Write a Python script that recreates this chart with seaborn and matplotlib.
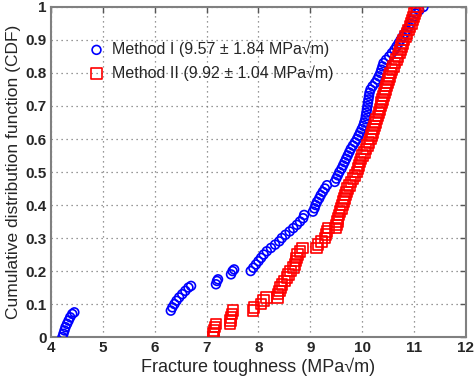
import matplotlib
matplotlib.use("Agg")
import matplotlib.pyplot as plt
import seaborn as sns
import pandas as pd

# Method I (blue circles): fracture toughness vs CDF
m1_x = [4.22, 4.24, 4.26, 4.28, 4.31, 4.34, 4.37, 4.41, 4.45,
        6.31, 6.34, 6.38, 6.42, 6.47, 6.53, 6.59, 6.65, 6.70,
        7.18, 7.20, 7.22,
        7.47, 7.50, 7.53,
        7.85, 7.90, 7.95, 8.00, 8.05, 8.10, 8.16, 8.24, 8.32, 8.40,
        8.45, 8.52, 8.60, 8.67, 8.74, 8.80, 8.86, 8.88,
        9.05, 9.08, 9.10, 9.13, 9.17, 9.20, 9.24, 9.28, 9.32,
        9.47, 9.50, 9.53, 9.56, 9.60, 9.63, 9.66, 9.69, 9.72, 9.75,
        9.78, 9.82, 9.86, 9.90, 9.93, 9.96, 9.99, 10.02, 10.04, 10.06,
        10.07, 10.08, 10.09, 10.10, 10.11, 10.12, 10.13, 10.14, 10.16,
        10.20, 10.25, 10.29, 10.32, 10.35, 10.37, 10.39, 10.41, 10.46,
        10.52, 10.57, 10.62, 10.66, 10.70, 10.74, 10.78, 10.82, 10.86,
        10.90, 10.93, 10.96, 10.99, 11.03, 11.10, 11.18]
m1_y = [0.00, 0.01, 0.02, 0.03, 0.04, 0.05, 0.06, 0.07, 0.075,
        0.08, 0.09, 0.10, 0.11, 0.12, 0.13, 0.14, 0.15, 0.155,
        0.16, 0.17, 0.175,
        0.19, 0.20, 0.205,
        0.20, 0.21, 0.22, 0.23, 0.24, 0.25, 0.26, 0.27, 0.28, 0.29,
        0.30, 0.31, 0.32, 0.33, 0.34, 0.35, 0.36, 0.37,
        0.38, 0.39, 0.40, 0.41, 0.42, 0.43, 0.44, 0.45, 0.46,
        0.47, 0.48, 0.49, 0.50, 0.51, 0.52, 0.53, 0.54, 0.55, 0.56,
        0.57, 0.58, 0.59, 0.60, 0.61, 0.62, 0.63, 0.64, 0.65, 0.66,
        0.67, 0.68, 0.69, 0.70, 0.71, 0.72, 0.73, 0.74, 0.75,
        0.76, 0.77, 0.78, 0.79, 0.80, 0.81, 0.82, 0.83, 0.84,
        0.85, 0.86, 0.87, 0.88, 0.89, 0.90, 0.91, 0.92, 0.93,
        0.94, 0.95, 0.96, 0.97, 0.98, 0.99, 1.00]

# Method II (red squares)
m2_x = [7.12, 7.13, 7.14, 7.16, 7.18,
        7.45, 7.46, 7.47, 7.49, 7.51,
        7.89, 7.91, 8.05, 8.10, 8.15,
        8.37, 8.38, 8.40, 8.42, 8.45,
        8.50, 8.55, 8.58, 8.62, 8.67, 8.70, 8.72, 8.73, 8.75, 8.80, 8.85,
        9.12, 9.15, 9.22,
        9.28, 9.30, 9.32, 9.35,
        9.48, 9.50, 9.52, 9.53, 9.55, 9.57, 9.60, 9.62, 9.64, 9.66,
        9.68, 9.70, 9.72, 9.75, 9.78, 9.82, 9.86, 9.90, 9.92, 9.94,
        9.96, 9.98, 10.01, 10.04, 10.07, 10.10, 10.13, 10.16, 10.18, 10.20,
        10.22, 10.24, 10.26, 10.28, 10.30, 10.32, 10.34, 10.36, 10.37, 10.39,
        10.41, 10.43, 10.45, 10.47, 10.49, 10.51, 10.53, 10.55, 10.57, 10.60,
        10.63, 10.66, 10.69, 10.72, 10.74, 10.76, 10.78, 10.80, 10.83, 10.86,
        10.89, 10.92, 10.95, 10.97, 10.99, 11.01, 11.04, 11.07]
m2_y = [0.00, 0.01, 0.02, 0.03, 0.04,
        0.04, 0.05, 0.06, 0.07, 0.08,
        0.08, 0.09, 0.10, 0.11, 0.12,
        0.12, 0.13, 0.14, 0.15, 0.16,
        0.17, 0.18, 0.19, 0.20, 0.21, 0.22, 0.23, 0.24, 0.25, 0.26, 0.27,
        0.27, 0.28, 0.29,
        0.30, 0.31, 0.32, 0.33,
        0.33, 0.34, 0.35, 0.36, 0.37, 0.38, 0.39, 0.40, 0.41, 0.42,
        0.43, 0.44, 0.45, 0.46, 0.47, 0.48, 0.49, 0.50, 0.51, 0.52,
        0.53, 0.54, 0.55, 0.56, 0.57, 0.58, 0.59, 0.60, 0.61, 0.62,
        0.63, 0.64, 0.65, 0.66, 0.67, 0.68, 0.69, 0.70, 0.71, 0.72,
        0.73, 0.74, 0.75, 0.76, 0.77, 0.78, 0.79, 0.80, 0.81, 0.82,
        0.83, 0.84, 0.85, 0.86, 0.87, 0.88, 0.89, 0.90, 0.91, 0.92,
        0.93, 0.94, 0.95, 0.96, 0.97, 0.98, 0.99, 1.00]

labels = ["Method I (9.57 \u00b1 1.84 MPa\u221am)", "Method II (9.92 \u00b1 1.04 MPa\u221am)"]
x_ticks = [4, 5, 6, 7, 8, 9, 10, 11, 12]
y_ticks = [0, 0.1, 0.2, 0.3, 0.4, 0.5, 0.6, 0.7, 0.8, 0.9, 1]
y_tick_labels = ["0", "0.1", "0.2", "0.3", "0.4", "0.5", "0.6", "0.7", "0.8", "0.9", "1"]

sns.set_style("white")
plt.rcParams['font.family'] = ['Liberation Sans', 'DejaVu Sans']

fig = plt.figure(figsize=(4.74, 3.87), dpi=100)
ax = fig.add_axes([0.1076, 0.129, 0.8755, 0.853])

d1 = pd.DataFrame({"x": m1_x, "y": m1_y})
d2 = pd.DataFrame({"x": m2_x, "y": m2_y})
sns.scatterplot(data=d1, x="x", y="y", ax=ax, marker="o", s=40,
                facecolors="none", edgecolor="#0000ff", linewidth=1.2,
                label=labels[0], zorder=3)
sns.scatterplot(data=d2, x="x", y="y", ax=ax, marker="s", s=58,
                facecolors="none", edgecolor="#ff0000", linewidth=1.2,
                label=labels[1], zorder=3)

ax.set_xlim(4, 12)
ax.set_ylim(0, 1)
ax.set_xticks(x_ticks)
ax.set_xticklabels([str(t) for t in x_ticks])
ax.set_yticks(y_ticks)
ax.set_yticklabels(y_tick_labels)
for lab in ax.get_xticklabels() + ax.get_yticklabels():
    lab.set_fontweight("bold")
    lab.set_fontsize(11)
ax.tick_params(direction="in", length=4, width=1, top=True, right=True,
               color="#555555", pad=3)
ax.grid(True, linestyle=(0, (1, 3)), color="#777777", linewidth=0.9)
for sp in ax.spines.values():
    sp.set_color("#808080")
    sp.set_linewidth(1.5)
    sp.set_visible(True)

ax.set_xlabel("Fracture toughness (MPa\u221am)", fontsize=13, labelpad=2)
ax.set_ylabel("Cumulative distribution function (CDF)", fontsize=12.5, labelpad=3)

leg = ax.legend(loc="upper left", bbox_to_anchor=(0.075, 0.915), frameon=False,
                fontsize=11.5, handletextpad=0.45, borderaxespad=0,
                labelspacing=0.5, handlelength=1.0)

fig.savefig("out.png", dpi=100)
